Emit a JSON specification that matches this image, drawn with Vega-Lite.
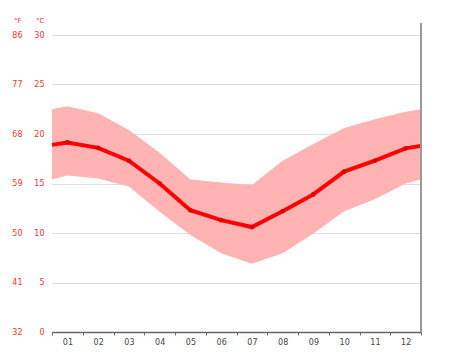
{
  "$schema": "https://vega.github.io/schema/vega-lite/v6.json",
  "width": 369,
  "height": 297,
  "autosize": {"type": "none"},
  "padding": {"left": 52, "top": 35, "right": 53, "bottom": 23},
  "background": "white",
  "config": {
    "view": {"stroke": null},
    "font": "DejaVu Sans"
  },
  "data": {
    "values": [
      {"m": 0.5, "mean": 18.9, "lo": 15.4, "hi": 22.5},
      {"m": 1, "mean": 19.15, "lo": 15.8, "hi": 22.8},
      {"m": 2, "mean": 18.6, "lo": 15.5, "hi": 22.1},
      {"m": 3, "mean": 17.3, "lo": 14.7, "hi": 20.4},
      {"m": 4, "mean": 15.0, "lo": 12.15, "hi": 18.1},
      {"m": 5, "mean": 12.3, "lo": 9.8, "hi": 15.4},
      {"m": 6, "mean": 11.3, "lo": 7.95, "hi": 15.1},
      {"m": 7, "mean": 10.6, "lo": 6.9, "hi": 14.85},
      {"m": 8, "mean": 12.2, "lo": 7.95, "hi": 17.3},
      {"m": 9, "mean": 13.9, "lo": 9.95, "hi": 19.0},
      {"m": 10, "mean": 16.2, "lo": 12.2, "hi": 20.6},
      {"m": 11, "mean": 17.3, "lo": 13.4, "hi": 21.5},
      {"m": 12, "mean": 18.55, "lo": 15.0, "hi": 22.25},
      {"m": 12.5, "mean": 18.8, "lo": 15.4, "hi": 22.5}
    ]
  },
  "encoding": {
    "x": {
      "field": "m", "type": "quantitative",
      "scale": {"domain": [0.5, 12.5], "nice": false, "zero": false},
      "axis": {
        "values": [0.5, 1.5, 2.5, 3.5, 4.5, 5.5, 6.5, 7.5, 8.5, 9.5, 10.5, 11.5, 12.5],
        "labelExpr": "datum.value < 12 ? format(datum.value + 0.5, '02d') : ''",
        "labelOffset": 15.4,
        "labelOverlap": false,
        "title": null,
        "grid": false,
        "domainColor": "#666",
        "domainWidth": 1.5,
        "tickColor": "#666",
        "tickSize": 3,
        "labelColor": "#444",
        "labelFontSize": 8,
        "labelPadding": 3,
        "labelFlush": false
      }
    }
  },
  "layer": [
    {
      "mark": {"type": "area", "color": "#ffb3b3", "opacity": 1},
      "encoding": {
        "y": {
          "field": "lo", "type": "quantitative",
          "scale": {"domain": [0, 30], "nice": false},
          "axis": {
            "orient": "left",
            "values": [0, 5, 10, 15, 20, 25, 30],
            "title": "°C",
            "titleAngle": 0,
            "titleColor": "#ee3333",
            "titleFontSize": 7,
            "titleFontWeight": "normal",
            "titleAlign": "right",
            "titleBaseline": "middle",
            "titleX": -8,
            "titleY": -15,
            "domain": false,
            "ticks": false,
            "labelColor": "#ee3333",
            "labelFontSize": 8,
            "labelPadding": 8,
            "gridColor": "#dddddd",
            "gridWidth": 1
          }
        },
        "y2": {"field": "hi"}
      }
    },
    {
      "mark": {"type": "line", "color": "#ff0000", "strokeWidth": 4},
      "encoding": {
        "y": {
          "field": "mean", "type": "quantitative",
          "axis": {
            "orient": "left",
            "values": [0, 5, 10, 15, 20, 25, 30],
            "labelExpr": "format(datum.value * 9 / 5 + 32, 'd')",
            "title": "°F",
            "titleAngle": 0,
            "titleColor": "#ee3333",
            "titleFontSize": 7,
            "titleFontWeight": "normal",
            "titleAlign": "right",
            "titleBaseline": "middle",
            "titleX": -9,
            "titleY": -15,
            "offset": 22,
            "domain": false,
            "ticks": false,
            "grid": false,
            "labelColor": "#ee3333",
            "labelFontSize": 8,
            "labelPadding": 8
          }
        }
      }
    },
    {
      "transform": [{"filter": "datum.m >= 1 && datum.m <= 12"}],
      "mark": {"type": "point", "filled": true, "color": "#dd0000", "size": 22, "opacity": 1},
      "encoding": {
        "y": {"field": "mean", "type": "quantitative", "axis": null}
      }
    },
    {
      "transform": [{"filter": "datum.m == 12.5"}],
      "mark": {"type": "rule", "color": "#999999", "strokeWidth": 2},
      "encoding": {
        "y": {"datum": 0, "axis": null},
        "y2": {"datum": 31.2}
      }
    }
  ],
  "resolve": {"axis": {"y": "independent"}}
}
